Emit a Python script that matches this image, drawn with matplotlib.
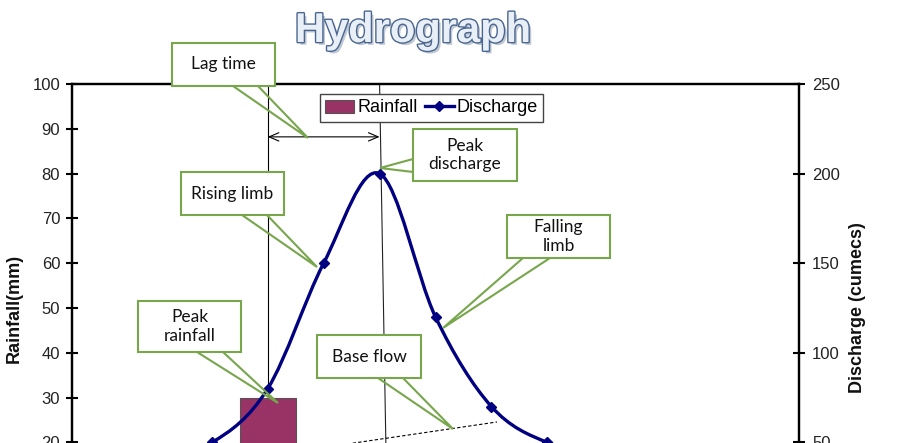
import numpy as np
import matplotlib
matplotlib.use('Agg')
import matplotlib.pyplot as plt
import matplotlib.patheffects as pe
from matplotlib.path import Path
from matplotlib.patches import PathPatch, Rectangle, Polygon
from matplotlib.lines import Line2D
from matplotlib.transforms import Affine2D

plt.rcParams['font.family'] = ['Liberation Sans', 'DejaVu Sans']

W, H = 920, 443

# hourly series (only the upper part of the chart is visible)
hours = np.arange(13)
rainfall = [0, 5, 12, 30, 15, 6, 0, 0, 0, 0, 0, 0, 0]
discharge = [40, 44, 50, 80, 150, 200, 120, 70, 50, 45, 42, 40, 40]
rain_ticks = list(range(0, 101, 10))
flow_ticks = list(range(0, 251, 50))

# base flow separation line (hour, discharge)
base_x = [2.0, 7.1]
base_y = [38.0, 61.4]

navy = '#000080'
maroon = '#993366'
green = '#77A64C'

fig = plt.figure(figsize=(W / 100, H / 100), dpi=100)
ax = fig.add_axes([72 / W, 1 - 532 / H, 727 / W, 448 / H])
ax2 = ax.twinx()

bars = ax.bar(hours, rainfall, width=1.0, color=maroon, edgecolor='#555555',
              linewidth=0.8, zorder=2)
ax.set_xlim(-0.5, 12.5)
ax.set_ylim(0, 100)
ax2.set_ylim(0, 250)
ax.set_yticks(rain_ticks)
ax2.set_yticks(flow_ticks)

# smoothed discharge line (Bezier through the points, like Excel)
pts = np.column_stack([hours, discharge]).astype(float)
n = len(pts)
verts = [pts[0]]
codes = [Path.MOVETO]
for i in range(n - 1):
    p0 = pts[max(i - 1, 0)]
    p1 = pts[i]
    p2 = pts[i + 1]
    p3 = pts[min(i + 2, n - 1)]
    verts += [p1 + (p2 - p0) / 6, p2 - (p3 - p1) / 6, p2]
    codes += [Path.CURVE4] * 3
ax2.add_patch(PathPatch(Path(verts, codes), fill=False, edgecolor=navy,
                        linewidth=2.4, zorder=3))
ax2.plot(hours, discharge, ls='none', marker='D', ms=5.5, color=navy, zorder=4)

# guide lines
i_rain = int(np.argmax(rainfall))
i_peak = int(np.argmax(discharge))
ax.plot([i_rain, i_rain], [rainfall[i_rain], 100], color='black', lw=0.8, zorder=1)
ax.plot([i_peak, i_peak + 0.14], [100, 0], color='#222222', lw=0.8, zorder=1)
ax2.plot(base_x, base_y, color='black', lw=0.8, ls=(0, (3, 2)), zorder=1)
ax.annotate('', xy=(i_rain, 88.2), xytext=(i_peak, 88.2),
            arrowprops=dict(arrowstyle='<->,head_length=0.7,head_width=0.3',
                            lw=0.8, color='black', shrinkA=0, shrinkB=0))

for a in (ax, ax2):
    for s in a.spines.values():
        s.set_linewidth(1.6)
ax.tick_params(axis='x', bottom=False, labelbottom=False)
ax.tick_params(axis='y', direction='inout', length=9, width=1.5,
               labelsize=12, pad=4, labelcolor='#222222')
ax2.tick_params(axis='y', direction='inout', length=9, width=1.5,
                labelsize=12, pad=5, labelcolor='#222222')

proxy = Line2D([], [], color=navy, lw=2.4, marker='D', ms=5.5)
leg = ax2.legend([bars, proxy], ['Rainfall', 'Discharge'], ncol=2,
                 loc='upper left', bbox_to_anchor=(320 / W, 1 - 94 / H),
                 bbox_transform=fig.transFigure, borderaxespad=0,
                 fancybox=False, edgecolor='#444444', framealpha=1,
                 borderpad=0.3, handlelength=1.6, handleheight=0.75,
                 handletextpad=0.15, columnspacing=0.4, fontsize=13)
leg.get_frame().set_linewidth(1.0)

fig.text(14.5 / W, 1 - 308 / H, 'Rainfall(mm)', rotation=90, ha='center',
         va='center', fontsize=13, fontweight='bold', color='#111111')
fig.text(858 / W, 1 - 308 / H, 'Discharge (cumecs)', rotation=90, ha='center',
         va='center', fontsize=13, fontweight='bold', color='#111111')

fig.text(413 / W, 1 - 42 / H, 'Hydrograph', ha='center', va='baseline',
         fontsize=30, fontweight='bold', color='#E9EFF7',
         path_effects=[pe.SimplePatchShadow(offset=(2, -2), shadow_rgbFace='#8090a8', alpha=0.5),
                       pe.Stroke(linewidth=2.0, foreground='#4A6690'),
                       pe.Normal()])

# callouts, laid out in pixels from the top-left corner
px = Affine2D().scale(1, -1).translate(0, H)
callouts = [
    ('Lag time', (172, 43, 275, 86), [(233, 86), (258, 86)], (308, 138)),
    ('Peak\ndischarge', (413, 129, 517, 181), [(413, 159), (413, 172)], (380, 168)),
    ('Rising limb', (181, 172, 284, 215), [(242, 215), (267, 215)], (317, 267)),
    ('Falling\nlimb', (507, 215, 610, 258), [(523, 258), (550, 258)], (443, 328)),
    ('Peak\nrainfall', (138, 301, 241, 352), [(197, 352), (223, 352)], (278, 403)),
    ('Base flow', (317, 335, 421, 378), [(378, 378), (403, 378)], (453, 429)),
]
for text, (x0, y0, x1, y1), base, tip in callouts:
    fig.add_artist(Polygon([base[0], tip, base[1]], closed=False, fill=False,
                           edgecolor=green, lw=1.5, transform=px, zorder=5))
    fig.add_artist(Rectangle((x0, y0), x1 - x0, y1 - y0, facecolor='white',
                             edgecolor=green, lw=1.5, transform=px, zorder=6))
    fig.text((x0 + x1) / 2, (y0 + y1) / 2, text, transform=px, ha='center',
             va='center', fontsize=12.5, family=['Lato', 'DejaVu Sans'],
             linespacing=1.2, color='#111111', zorder=7)

fig.savefig('out.png', dpi=100, facecolor='white')
